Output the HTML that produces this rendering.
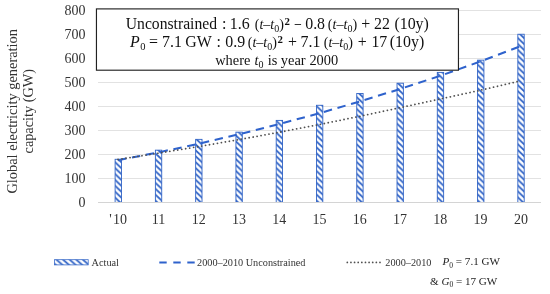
<!DOCTYPE html>
<html><head><meta charset="utf-8"><title>Global electricity generation capacity</title>
<style>
html,body{margin:0;padding:0;background:#fff;}
body{width:550px;height:294px;overflow:hidden;}
svg{display:block;}
text{font-family:"Liberation Serif",serif;fill:#222;}
.ax{font-size:14px;fill:#333;}
.lg{font-size:10.25px;fill:#333;}
.bx{font-size:15.9px;fill:#111;}
.b3{font-size:14.4px;fill:#111;}
.sm{font-size:14.1px;}
.it{font-style:italic;}
</style></head><body>
<svg width="550" height="294" viewBox="0 0 550 294">
<defs>
<pattern id="hatch" patternUnits="userSpaceOnUse" width="6.2" height="5.9" patternTransform="translate(114.7,161.8)">
<rect width="6.2" height="5.9" fill="#fff"/>
<path d="M-3.1,-2.95 L9.3,8.85 M-3.1,2.95 L3.1,8.85 M3.1,-2.95 L9.3,2.95" stroke="#3063C6" stroke-width="1.8" fill="none"/>
</pattern>
<pattern id="hatchL" patternUnits="userSpaceOnUse" width="6.6" height="5.9" patternTransform="translate(56.6,259.7)">
<rect width="6.6" height="5.9" fill="#fff"/>
<path d="M-3.3,-2.95 L9.9,8.85 M-3.3,2.95 L3.3,8.85 M3.3,-2.95 L9.9,2.95" stroke="#3063C6" stroke-width="1.7" fill="none"/>
</pattern>
</defs>
<rect width="550" height="294" fill="#fff"/>

<text class="ax" x="85.5" y="206.8" text-anchor="end">0</text>
<line x1="98.0" y1="178.5" x2="541.0" y2="178.5" stroke="#e2e2e2" stroke-width="1"/>
<text class="ax" x="85.5" y="182.8" text-anchor="end">100</text>
<line x1="98.0" y1="154.5" x2="541.0" y2="154.5" stroke="#e2e2e2" stroke-width="1"/>
<text class="ax" x="85.5" y="158.8" text-anchor="end">200</text>
<line x1="98.0" y1="130.5" x2="541.0" y2="130.5" stroke="#e2e2e2" stroke-width="1"/>
<text class="ax" x="85.5" y="134.8" text-anchor="end">300</text>
<line x1="98.0" y1="106.5" x2="541.0" y2="106.5" stroke="#e2e2e2" stroke-width="1"/>
<text class="ax" x="85.5" y="110.8" text-anchor="end">400</text>
<line x1="98.0" y1="82.5" x2="541.0" y2="82.5" stroke="#e2e2e2" stroke-width="1"/>
<text class="ax" x="85.5" y="86.8" text-anchor="end">500</text>
<line x1="98.0" y1="58.5" x2="541.0" y2="58.5" stroke="#e2e2e2" stroke-width="1"/>
<text class="ax" x="85.5" y="62.8" text-anchor="end">600</text>
<line x1="98.0" y1="34.5" x2="541.0" y2="34.5" stroke="#e2e2e2" stroke-width="1"/>
<text class="ax" x="85.5" y="38.8" text-anchor="end">700</text>
<line x1="98.0" y1="10.5" x2="541.0" y2="10.5" stroke="#e2e2e2" stroke-width="1"/>
<text class="ax" x="85.5" y="14.8" text-anchor="end">800</text>
<rect x="115.11" y="159.28" width="6.35" height="43.12" fill="url(#hatch)" stroke="#3063C6" stroke-width="0.9"/>
<rect x="155.38" y="150.16" width="6.35" height="52.24" fill="url(#hatch)" stroke="#3063C6" stroke-width="0.9"/>
<rect x="195.66" y="139.36" width="6.35" height="63.04" fill="url(#hatch)" stroke="#3063C6" stroke-width="0.9"/>
<rect x="235.93" y="132.16" width="6.35" height="70.24" fill="url(#hatch)" stroke="#3063C6" stroke-width="0.9"/>
<rect x="276.20" y="120.40" width="6.35" height="82.00" fill="url(#hatch)" stroke="#3063C6" stroke-width="0.9"/>
<rect x="316.47" y="105.28" width="6.35" height="97.12" fill="url(#hatch)" stroke="#3063C6" stroke-width="0.9"/>
<rect x="356.75" y="93.52" width="6.35" height="108.88" fill="url(#hatch)" stroke="#3063C6" stroke-width="0.9"/>
<rect x="397.02" y="83.20" width="6.35" height="119.20" fill="url(#hatch)" stroke="#3063C6" stroke-width="0.9"/>
<rect x="437.29" y="72.40" width="6.35" height="130.00" fill="url(#hatch)" stroke="#3063C6" stroke-width="0.9"/>
<rect x="477.57" y="60.16" width="6.35" height="142.24" fill="url(#hatch)" stroke="#3063C6" stroke-width="0.9"/>
<rect x="517.84" y="34.24" width="6.35" height="168.16" fill="url(#hatch)" stroke="#3063C6" stroke-width="0.9"/>
<line x1="98.0" y1="202.5" x2="541.0" y2="202.5" stroke="#d4d4d4" stroke-width="1"/>
<text class="ax" x="118.1" y="224.1" text-anchor="middle">'<tspan dx="1.3">10</tspan></text>
<text class="ax" x="158.4" y="224.1" text-anchor="middle">11</text>
<text class="ax" x="198.7" y="224.1" text-anchor="middle">12</text>
<text class="ax" x="239.0" y="224.1" text-anchor="middle">13</text>
<text class="ax" x="279.2" y="224.1" text-anchor="middle">14</text>
<text class="ax" x="319.5" y="224.1" text-anchor="middle">15</text>
<text class="ax" x="359.8" y="224.1" text-anchor="middle">16</text>
<text class="ax" x="400.0" y="224.1" text-anchor="middle">17</text>
<text class="ax" x="440.3" y="224.1" text-anchor="middle">18</text>
<text class="ax" x="480.6" y="224.1" text-anchor="middle">19</text>
<text class="ax" x="520.9" y="224.1" text-anchor="middle">20</text>
<polyline points="118.1,160.2 158.4,152.4 198.7,143.7 239.0,134.3 279.2,124.1 319.5,113.2 359.8,101.5 400.0,89.0 440.3,75.8 480.6,61.4 520.9,46.0" fill="none" stroke="#2E62CC" stroke-width="2.05" stroke-dasharray="8.4 5.7"/>
<polyline points="118.1,159.5 158.4,153.2 198.7,146.6 239.0,139.6 279.2,132.3 319.5,124.5 359.8,116.3 400.0,107.7 440.3,99.0 480.6,90.2 520.9,80.8" fill="none" stroke="#505050" stroke-width="1.8" stroke-linecap="round" stroke-dasharray="0.01 4.016"/>
<text class="ax" transform="translate(17.1,111.3) rotate(-90)" text-anchor="middle" style="font-size:14.4px">Global electricity generation</text>
<text class="ax" transform="translate(33.4,111.2) rotate(-90)" text-anchor="middle" style="font-size:14.3px">capacity (GW)</text>
<rect x="96.45" y="8.9" width="362" height="61.3" fill="#fff" stroke="#222" stroke-width="1.15"/>
<text class="bx"><tspan x="125.80" y="28.5"><tspan style="font-size:15.65px">Unconstrained</tspan></tspan><tspan x="221.90" y="28.5">:</tspan><tspan x="229.80" y="28.5">1.6</tspan><tspan x="254.70" y="28.5"><tspan class="sm">(<tspan class="it">t</tspan>–<tspan class="it">t</tspan><tspan style="font-size:10px" dy="3">0</tspan><tspan dy="-3">)</tspan></tspan><tspan style="font-size:10.8px;font-weight:bold" dy="-3.2" dx="0.6">2</tspan></tspan><tspan x="294.70" y="28.5"><tspan style="font-size:12.5px;font-weight:bold" dy="-1.6">–</tspan></tspan><tspan x="305.20" y="28.5">0.8</tspan><tspan x="327.80" y="28.5"><tspan class="sm">(<tspan class="it">t</tspan>–<tspan class="it">t</tspan><tspan style="font-size:10px" dy="3">0</tspan><tspan dy="-3">)</tspan></tspan></tspan><tspan x="361.20" y="28.5">+</tspan><tspan x="374.00" y="28.5">22</tspan><tspan x="394.40" y="28.5">(10y)</tspan></text>
<text class="bx"><tspan x="130.10" y="46.6"><tspan class="it">P</tspan><tspan style="font-size:10.5px" dy="3.5" dx="0.5">0</tspan></tspan><tspan x="149.00" y="46.6">=</tspan><tspan x="162.10" y="46.6">7.1</tspan><tspan x="185.20" y="46.6">GW</tspan><tspan x="216.60" y="46.6">:</tspan><tspan x="225.30" y="46.6">0.9</tspan><tspan x="247.70" y="46.6"><tspan class="sm">(<tspan class="it">t</tspan>–<tspan class="it">t</tspan><tspan style="font-size:10px" dy="3">0</tspan><tspan dy="-3">)</tspan></tspan><tspan style="font-size:10.8px;font-weight:bold" dy="-3.2" dx="0.6">2</tspan></tspan><tspan x="287.90" y="46.6">+</tspan><tspan x="300.60" y="46.6">7.1</tspan><tspan x="323.70" y="46.6"><tspan class="sm">(<tspan class="it">t</tspan>–<tspan class="it">t</tspan><tspan style="font-size:10px" dy="3">0</tspan><tspan dy="-3">)</tspan></tspan></tspan><tspan x="357.70" y="46.6">+</tspan><tspan x="371.40" y="46.6">17</tspan><tspan x="389.80" y="46.6">(10y)</tspan></text>
<text class="b3"><tspan x="215.20" y="64.6">where</tspan><tspan x="254.60" y="64.6"><tspan class="it">t</tspan><tspan style="font-size:10px" dy="3">0</tspan></tspan><tspan x="267.80" y="64.6">is</tspan><tspan x="280.80" y="64.6">year</tspan><tspan x="309.40" y="64.6">2000</tspan></text>
<rect x="54.6" y="259.7" width="33.6" height="5.2" fill="url(#hatchL)" stroke="#3063C6" stroke-width="0.75"/>
<text class="lg" x="91.6" y="266.3">Actual</text>
<line x1="159.3" y1="262.4" x2="195" y2="262.4" stroke="#2E62CC" stroke-width="2" stroke-dasharray="7.4 6.6"/>
<text class="lg" x="197" y="266.3">2000–2010 Unconstrained</text>
<line x1="347.3" y1="262.4" x2="380.5" y2="262.4" stroke="#505050" stroke-width="1.75" stroke-linecap="round" stroke-dasharray="0.01 3.62"/>
<text class="lg" x="385.3" y="266.3">2000–2010</text>
<text x="442.5" y="265.1" style="font-size:11.1px;fill:#222"><tspan font-style="italic">P</tspan><tspan style="font-size:7.5px" dy="2.5">0</tspan><tspan dy="-2.5"> = 7.1 GW</tspan></text>
<text x="430" y="284.8" style="font-size:11.1px;fill:#222">&amp; <tspan font-style="italic">G</tspan><tspan style="font-size:7.5px" dy="2.5">0</tspan><tspan dy="-2.5"> = 17 GW</tspan></text>
</svg></body></html>
